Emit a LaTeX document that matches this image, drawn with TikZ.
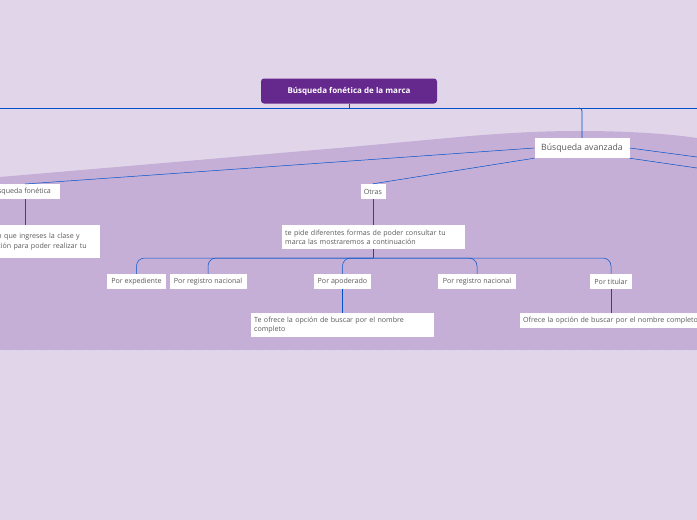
\documentclass[tikz,border=0pt]{standalone}
\usepackage{fontspec}
\setmainfont{Open Sans}
\begin{document}
\begin{tikzpicture}[x=1pt,y=-1pt,
  box/.style={fill=white,inner sep=0pt,font=\fontsize{7.1}{9.5}\selectfont,text=black!65}]
\definecolor{bgc}{HTML}{E1D5EA}
\definecolor{reg}{HTML}{C5AFD6}
\definecolor{tit}{HTML}{65288D}
\colorlet{lnc}{blue!60!cyan!80!black}
\useasboundingbox (0,0) rectangle (697,520);
\fill[bgc] (0,0) rectangle (697,520);
\fill[reg] (0,177) -- (350,147) -- (470,136) .. controls (520,132) and (550,131) .. (580,131) .. controls (630,131) and (670,134) .. (697,138) -- (697,350) -- (0,350) -- cycle;
\draw[bgc,line width=1.2pt,dash pattern=on 4pt off 8pt] (0,350.5) -- (697,350.5);
% nodes
\node[fill=tit,rounded corners=3pt,text=white,font=\bfseries\fontsize{8}{10}\selectfont,minimum width=176,minimum height=25] (t) at (349,91) {Búsqueda fonética de la marca};
\node[box,minimum width=95,minimum height=20,font=\fontsize{8.7}{10}\selectfont] (ba) at (582,148) {Búsqueda avanzada};
\node[box,minimum width=80,minimum height=15] (bf) at (20,191.5) {Búsqueda fonética};
\node[box,minimum width=130,minimum height=33,align=left,text width=130,anchor=north west] (bft) at (-30,225) {\hspace*{3pt}Te piden que ingreses la clase y\\\hspace*{3pt}descripción para poder realizar tu};
\node[box,minimum width=25,minimum height=15] (ot) at (373,191.5) {Otras};
\node[box,minimum width=183,minimum height=24,anchor=north west,align=left,text width=183] (tp) at (282,225) {\hspace*{3pt}te pide diferentes formas de poder consultar tu\\\hspace*{3pt}marca las mostraremos a continuación};
\node[box,minimum width=59,minimum height=15] (c1) at (136.5,281.5) {Por expediente};
\node[box,minimum width=77,minimum height=15] (c2) at (208,281.5) {Por registro nacional};
\node[box,minimum width=57,minimum height=15] (c3) at (342.5,281.5) {Por apoderado};
\node[box,minimum width=78,minimum height=15] (c4) at (477,281.5) {Por registro nacional};
\node[box,minimum width=42,minimum height=15] (c5) at (611,281.5) {Por titular};
\node[box,minimum width=183,minimum height=24,anchor=north west,align=left,text width=183] (d3) at (251,313) {\hspace*{3pt}Te ofrece la opción de buscar por el nombre\\\hspace*{3pt}completo};
\node[box,minimum width=185,minimum height=15,anchor=north west,align=left,text width=185] (d5) at (520,313) {\hspace*{3pt}Ofrece la opción de buscar por el nombre completo};
\coordinate (L) at (0,108); \coordinate (R) at (697,108);
\coordinate (r1) at (697,157); \coordinate (r2) at (697,168);
% connectors
\draw[lnc,line width=0.7pt] (L) -- (R);
\draw[lnc,line width=0.7pt] (t.south) -- (349,108);
\draw[lnc,line width=0.7pt,rounded corners=3pt] (579,108) -| (ba.north);
\draw[lnc,line width=0.5pt] (ba.west) -- (25,184);
\draw[lnc,line width=0.5pt] (ba.south west) -- (ot.north);
\draw[lnc,line width=0.5pt] (ba.east) -- (r1);
\draw[lnc,line width=0.5pt] (ba.south east) -- (r2);
\draw[lnc,line width=0.5pt] (25,199) -- (25,225);
\draw[lnc,line width=0.5pt] (ot.south) -- (tp.north -| ot.south);
\draw[lnc,line width=0.8pt] (373,249) -- (373,258);
\foreach \c in {c1,c2,c3,c4,c5}{
  \draw[lnc,line width=0.5pt,rounded corners=8pt] (373,258) -| (\c.north);
}
\draw[lnc,line width=0.5pt] (c3.south) -- (c3.south |- d3.north);
\draw[lnc,line width=0.5pt] (c5.south) -- (c5.south |- d5.north);
\end{tikzpicture}
\end{document}
